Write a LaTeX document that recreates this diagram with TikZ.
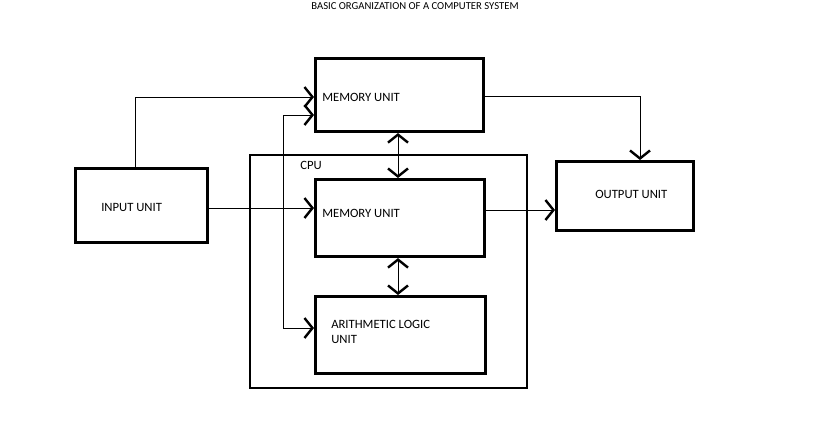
\documentclass[tikz,border=0pt]{standalone}
\usepackage{fontspec}
\setmainfont{Carlito}
\usetikzlibrary{arrows.meta}
\begin{document}
\begin{tikzpicture}[x=0.75pt,y=-0.75pt,
  box/.style={draw,line width=2.3pt},
  lbl/.style={anchor=west,inner sep=0pt,font=\fontsize{9.5}{11}\selectfont,align=left},
  conn/.style={line width=0.75pt},
  tip/.style={-{Straight Barb[length=6pt,width=15pt,line width=1.8pt]}},
  dtip/.style={{Straight Barb[length=6pt,width=15pt,line width=1.8pt]}-{Straight Barb[length=6pt,width=15pt,line width=1.8pt]}}]
\useasboundingbox (0,0) rectangle (819,430);
\node[inner sep=0pt,font=\fontsize{8}{10}\selectfont] (title) at (415,6) {BASIC ORGANIZATION OF A COMPUTER SYSTEM};
\draw[line width=2pt] (250,155) rectangle (527,388);
\node[lbl] (cpu) at (300,165) {CPU};
\node[box,minimum width=168pt*0.75/0.75*0.75,minimum height=73*0.75pt,inner sep=0pt,anchor=north west] (mem1) at (314,57) {};
\node[box,minimum width=169*0.75pt,minimum height=77*0.75pt,inner sep=0pt,anchor=north west] (mem2) at (314,178) {};
\node[box,minimum width=170*0.75pt,minimum height=77*0.75pt,inner sep=0pt,anchor=north west] (alu) at (314,295) {};
\node[box,minimum width=132*0.75pt,minimum height=74*0.75pt,inner sep=0pt,anchor=north west] (in) at (74,167) {};
\node[box,minimum width=137*0.75pt,minimum height=69*0.75pt,inner sep=0pt,anchor=north west] (out) at (555,160) {};
\node[lbl] (t1) at (322,97) {MEMORY UNIT};
\node[lbl] (t2) at (322,213) {MEMORY UNIT};
\node[lbl] (t3) at (331,332) {ARITHMETIC LOGIC\\UNIT};
\node[lbl] (t4) at (101,207) {INPUT UNIT};
\node[lbl] (t5) at (595,194) {OUTPUT UNIT};
\coordinate (a1) at (135,97);
\coordinate (b1) at (283,115);
\coordinate (b2) at (283,328);
\coordinate (c1) at (640,96);
\draw[conn,tip] (in.north -| a1) -- (a1) -- (mem1.west |- a1);
\draw[conn,tip] (in.east |- 0,208) -- (mem2.west |- 0,208);
\draw[conn,tip] (b1) -- (mem1.west |- b1);
\draw[conn,tip] (b1) -- (b2) -- (alu.west |- b2);
\draw[conn,dtip] (mem1.south -| 398,0) -- (mem2.north -| 398,0);
\draw[conn,dtip] (mem2.south -| 398,0) -- (alu.north -| 398,0);
\draw[conn,tip] (mem2.east |- 0,210) -- (out.west |- 0,210);
\draw[conn,tip] (mem1.east |- c1) -- (c1) -- (out.north -| c1);
\end{tikzpicture}
\end{document}
